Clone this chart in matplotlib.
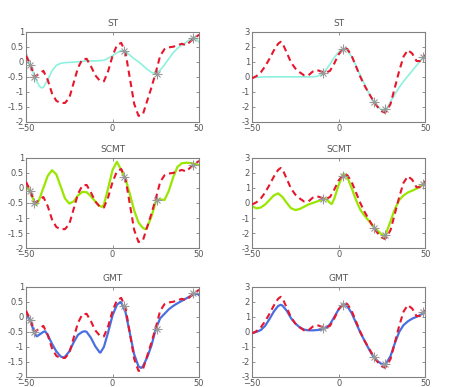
import numpy as np
import matplotlib
matplotlib.use("Agg")
import matplotlib.pyplot as plt

# ---- data ----
# true function, left column (dashed red)
true_l_x = [-50, -47.5, -45, -42.5, -40, -37.5, -35, -32.5, -30, -27.5, -25,
            -22.5, -20, -17.5, -15, -12.5, -10, -7.5, -5, -2.5, 0, 2.5, 5,
            7.5, 10, 12.5, 15, 17.5, 20, 22.5, 25, 27.5, 30, 32.5, 35, 37.5,
            40, 42.5, 45, 47.5, 50]
true_l_y = [0.2, -0.1, -0.5, -0.4, -0.3, -0.6, -1.05, -1.3, -1.37, -1.37, -1.2,
            -0.7, -0.2, 0.08, 0.1, -0.15, -0.45, -0.62, -0.65, -0.3, 0.2, 0.55,
            0.63, 0.3, -0.55, -1.4, -1.8, -1.75, -1.3, -0.85, -0.35, 0.2, 0.42,
            0.48, 0.5, 0.55, 0.6, 0.55, 0.68, 0.8, 0.9]

# true function, right column (dashed red)
true_r_x = [-50, -47.5, -45, -42.5, -40, -37.5, -35, -33.5, -32.5, -30, -27.5,
            -25, -22.5, -20, -17.5, -15, -12.5, -10, -7.5, -5, -2.5, 0, 2.5,
            4, 5, 7.5, 10, 12.5, 15, 17.5, 20, 22.5, 25, 26.5, 27.5, 30, 32.5,
            35, 37.5, 40, 42.5, 45, 47.5, 50]
true_r_y = [-0.1, 0.05, 0.3, 0.7, 1.2, 1.75, 2.2, 2.33, 2.25, 1.6, 0.95,
            0.55, 0.3, 0.1, 0.1, 0.35, 0.45, 0.35, 0.27, 0.4, 0.9, 1.5, 1.85,
            1.9, 1.85, 1.4, 0.7, 0.0, -0.6, -1.1, -1.6, -2.0, -2.3, -2.38, -2.3,
            -1.8, -0.7, 0.4, 1.35, 1.78, 1.55, 1.05, 1.05, 1.44]

# observations (asterisks)
obs_l_x = [-47.5, -45.5, 6.5, 25.5, 46.5]
obs_l_y = [-0.1, -0.5, 0.37, -0.4, 0.78]
obs_r_x = [-9, 2.7, 20.5, 26.8, 49]
obs_r_y = [0.27, 1.82, -1.67, -2.16, 1.29]

# ST predictions
st_l_x = [-50, -47.5, -45, -42.5, -41, -40, -37.5, -35, -32.5, -30, -27.5, -25,
          -20, -15, -10, -5, -2.5, 0, 2.5, 5, 7.5, 10, 12.5, 15, 17.5, 20,
          22.5, 25, 27.5, 30, 32.5, 35, 37.5, 40, 42.5, 45, 47.5, 50]
st_l_y = [0.3, -0.1, -0.5, -0.8, -0.87, -0.85, -0.6, -0.3, -0.12, -0.05, -0.03,
          -0.02, 0.0, 0.03, 0.03, 0.05, 0.12, 0.2, 0.3, 0.37, 0.35, 0.22, 0.1,
          0.0, -0.12, -0.25, -0.35, -0.4, -0.28, -0.1, 0.1, 0.3, 0.45, 0.55,
          0.65, 0.75, 0.82, 0.65]
st_r_x = [-50, -45, -40, -30, -20, -15, -12.5, -10, -8.9, -7.5, -5, -2.5, 0,
          2.5, 3.5, 5, 7.5, 10, 12.5, 15, 17.5, 20, 22.5, 25, 26.5, 27.5, 30,
          32.5, 35, 37.5, 40, 42.5, 45, 47.5, 50]
st_r_y = [-0.05, -0.02, 0.0, 0.0, 0.0, 0.0, 0.03, 0.15, 0.27, 0.45, 0.85, 1.3,
          1.65, 1.85, 1.88, 1.75, 1.35, 0.75, 0.1, -0.5, -1.1, -1.6, -1.95,
          -2.22, -2.28, -2.2, -1.65, -1.15, -0.7, -0.3, 0.05, 0.4, 0.75, 1.1,
          1.45]

# SCMT predictions
scmt_l_x = [-50, -47.5, -45, -44, -42.5, -40, -37.5, -35, -32.5, -30, -27.5,
            -25, -22.5, -20, -17.5, -15, -12.5, -10, -7.5, -6, -5, -2.5, 0,
            2.5, 5, 7.5, 10, 12.5, 15, 17.5, 19, 20, 22.5, 25, 27.5, 30, 32.5,
            35, 37.5, 40, 42.5, 45, 47.5, 50]
scmt_l_y = [0.11, -0.15, -0.5, -0.56, -0.4, 0.0, 0.4, 0.59, 0.45, 0.05, -0.35,
            -0.52, -0.45, -0.25, -0.13, -0.14, -0.28, -0.45, -0.6, -0.63, -0.55,
            0.0, 0.6, 0.87, 0.6, 0.3, -0.2, -0.75, -1.15, -1.33, -1.37, -1.3,
            -0.95, -0.45, -0.38, -0.4, -0.1, 0.35, 0.7, 0.82, 0.84, 0.83, 0.8,
            0.76]
scmt_r_x = [-50, -47.5, -45, -42.5, -40, -37.5, -35, -32.5, -30, -27.5, -25,
            -22.5, -20, -17.5, -15, -12.5, -10, -8.9, -7.5, -5, -4, -2.5, 0,
            2.5, 3, 5, 7.5, 10, 12.5, 15, 17.5, 20, 22.5, 25, 26.5, 27.5, 30,
            32.5, 35, 37.5, 40, 42.5, 45, 47.5, 50]
scmt_r_y = [-0.22, -0.36, -0.3, -0.1, 0.2, 0.5, 0.64, 0.4, 0.0, -0.35, -0.47,
            -0.4, -0.25, -0.1, 0.0, 0.1, 0.2, 0.27, 0.3, 0.0, -0.07, 0.3, 1.2,
            1.9, 1.93, 1.7, 1.0, 0.2, -0.45, -0.85, -1.2, -1.55, -1.85, -2.1,
            -2.22, -2.0, -1.2, -0.4, 0.2, 0.5, 0.7, 0.82, 0.95, 1.15, 1.38]

# GMT predictions
gmt_l_x = [-50, -47.5, -45, -43.8, -42.5, -40, -39, -37.5, -35, -32.5, -30,
           -28.5, -27.5, -25, -22.5, -20, -17.5, -16, -15, -12.5, -10, -7.5,
           -7, -5, -2.5, 0, 2.5, 4.5, 5, 7.5, 10, 12.5, 15, 16.5, 17.5, 20,
           22.5, 25, 27.5, 30, 32.5, 35, 37.5, 40, 42.5, 45, 47.5, 49, 50]
gmt_l_y = [0.11, -0.15, -0.55, -0.65, -0.6, -0.5, -0.48, -0.6, -0.9, -1.15,
           -1.32, -1.35, -1.33, -1.15, -0.85, -0.6, -0.5, -0.48, -0.5, -0.7,
           -0.98, -1.18, -1.19, -1.0, -0.5, 0.05, 0.4, 0.49, 0.48, 0.15, -0.55,
           -1.25, -1.65, -1.7, -1.65, -1.35, -0.95, -0.4, -0.05, 0.1, 0.25,
           0.36, 0.45, 0.53, 0.61, 0.69, 0.76, 0.77, 0.72]
gmt_r_x = [-50, -47.5, -45, -42.5, -40, -37.5, -35, -33.5, -32.5, -30, -27.5,
           -25, -22.5, -20, -17.5, -15, -12.5, -10, -7.5, -5, -2.5, 0, 2.5, 3,
           5, 7.5, 10, 12.5, 15, 17.5, 20, 22.5, 25, 26.5, 27.5, 30, 32.5, 35,
           37.5, 40, 42.5, 45, 47.5, 50]
gmt_r_y = [-0.09, 0.0, 0.12, 0.4, 0.85, 1.35, 1.72, 1.8, 1.75, 1.4, 0.9, 0.55,
           0.3, 0.15, 0.1, 0.1, 0.12, 0.15, 0.25, 0.5, 1.0, 1.5, 1.82, 1.84,
           1.7, 1.25, 0.6, -0.05, -0.6, -1.15, -1.65, -1.95, -2.15, -2.18, -2.1,
           -1.6, -0.75, 0.0, 0.45, 0.7, 0.88, 1.0, 1.15, 1.29]

titles = ["ST", "SCMT", "GMT"]
pred_colors = ["#8cf2de", "#99e600", "#4a6fe0"]
pred_widths = [1.2, 1.6, 1.6]
preds_left = [(st_l_x, st_l_y), (scmt_l_x, scmt_l_y), (gmt_l_x, gmt_l_y)]
preds_right = [(st_r_x, st_r_y), (scmt_r_x, scmt_r_y), (gmt_r_x, gmt_r_y)]

frame_col = "#808080"
text_col = "#555555"

fig = plt.figure(figsize=(4.74, 3.87), dpi=100)

# axes rectangles [left, bottom, width, height] in figure fractions
lefts = [0.055, 0.532]
bottoms = [0.685, 0.359, 0.026]
w, h = 0.365, 0.233


def draw_panel(ax, pred, color, lw, true_x, true_y, obs_x, obs_y, ylim, yticks):
    ax.plot(pred[0], pred[1], color=color, lw=lw, zorder=2)
    ax.plot(true_x, true_y, color="#e8162c", lw=1.5, dashes=(3, 2), zorder=3)
    ax.plot(obs_x, obs_y, ls="none", marker="+", ms=7, mew=0.8,
            color="#999999", zorder=4)
    ax.plot(obs_x, obs_y, ls="none", marker="x", ms=5, mew=0.8,
            color="#999999", zorder=4)
    ax.set_xlim(-50, 50)
    ax.set_ylim(*ylim)
    ax.set_xticks([-50, 0, 50])
    ax.set_yticks(yticks)
    ax.set_yticklabels([("%g" % t) for t in yticks])
    ax.tick_params(direction="in", length=2.5, width=0.6, labelsize=6,
                   colors=frame_col, labelcolor=text_col, pad=1.5,
                   top=True, right=True)
    for s in ax.spines.values():
        s.set_color(frame_col)
        s.set_linewidth(0.8)


for row in range(3):
    axl = fig.add_axes([lefts[0], bottoms[row], w, h])
    draw_panel(axl, preds_left[row], pred_colors[row], pred_widths[row],
               true_l_x, true_l_y, obs_l_x, obs_l_y, (-2, 1),
               [-2, -1.5, -1, -0.5, 0, 0.5, 1])
    axl.set_title(titles[row], fontsize=6.5, color=text_col, pad=4)

    axr = fig.add_axes([lefts[1], bottoms[row], w, h])
    draw_panel(axr, preds_right[row], pred_colors[row], pred_widths[row],
               true_r_x, true_r_y, obs_r_x, obs_r_y, (-3, 3),
               [-3, -2, -1, 0, 1, 2, 3])
    axr.set_title(titles[row], fontsize=6.5, color=text_col, pad=4)

fig.savefig("out.png", dpi=100)
